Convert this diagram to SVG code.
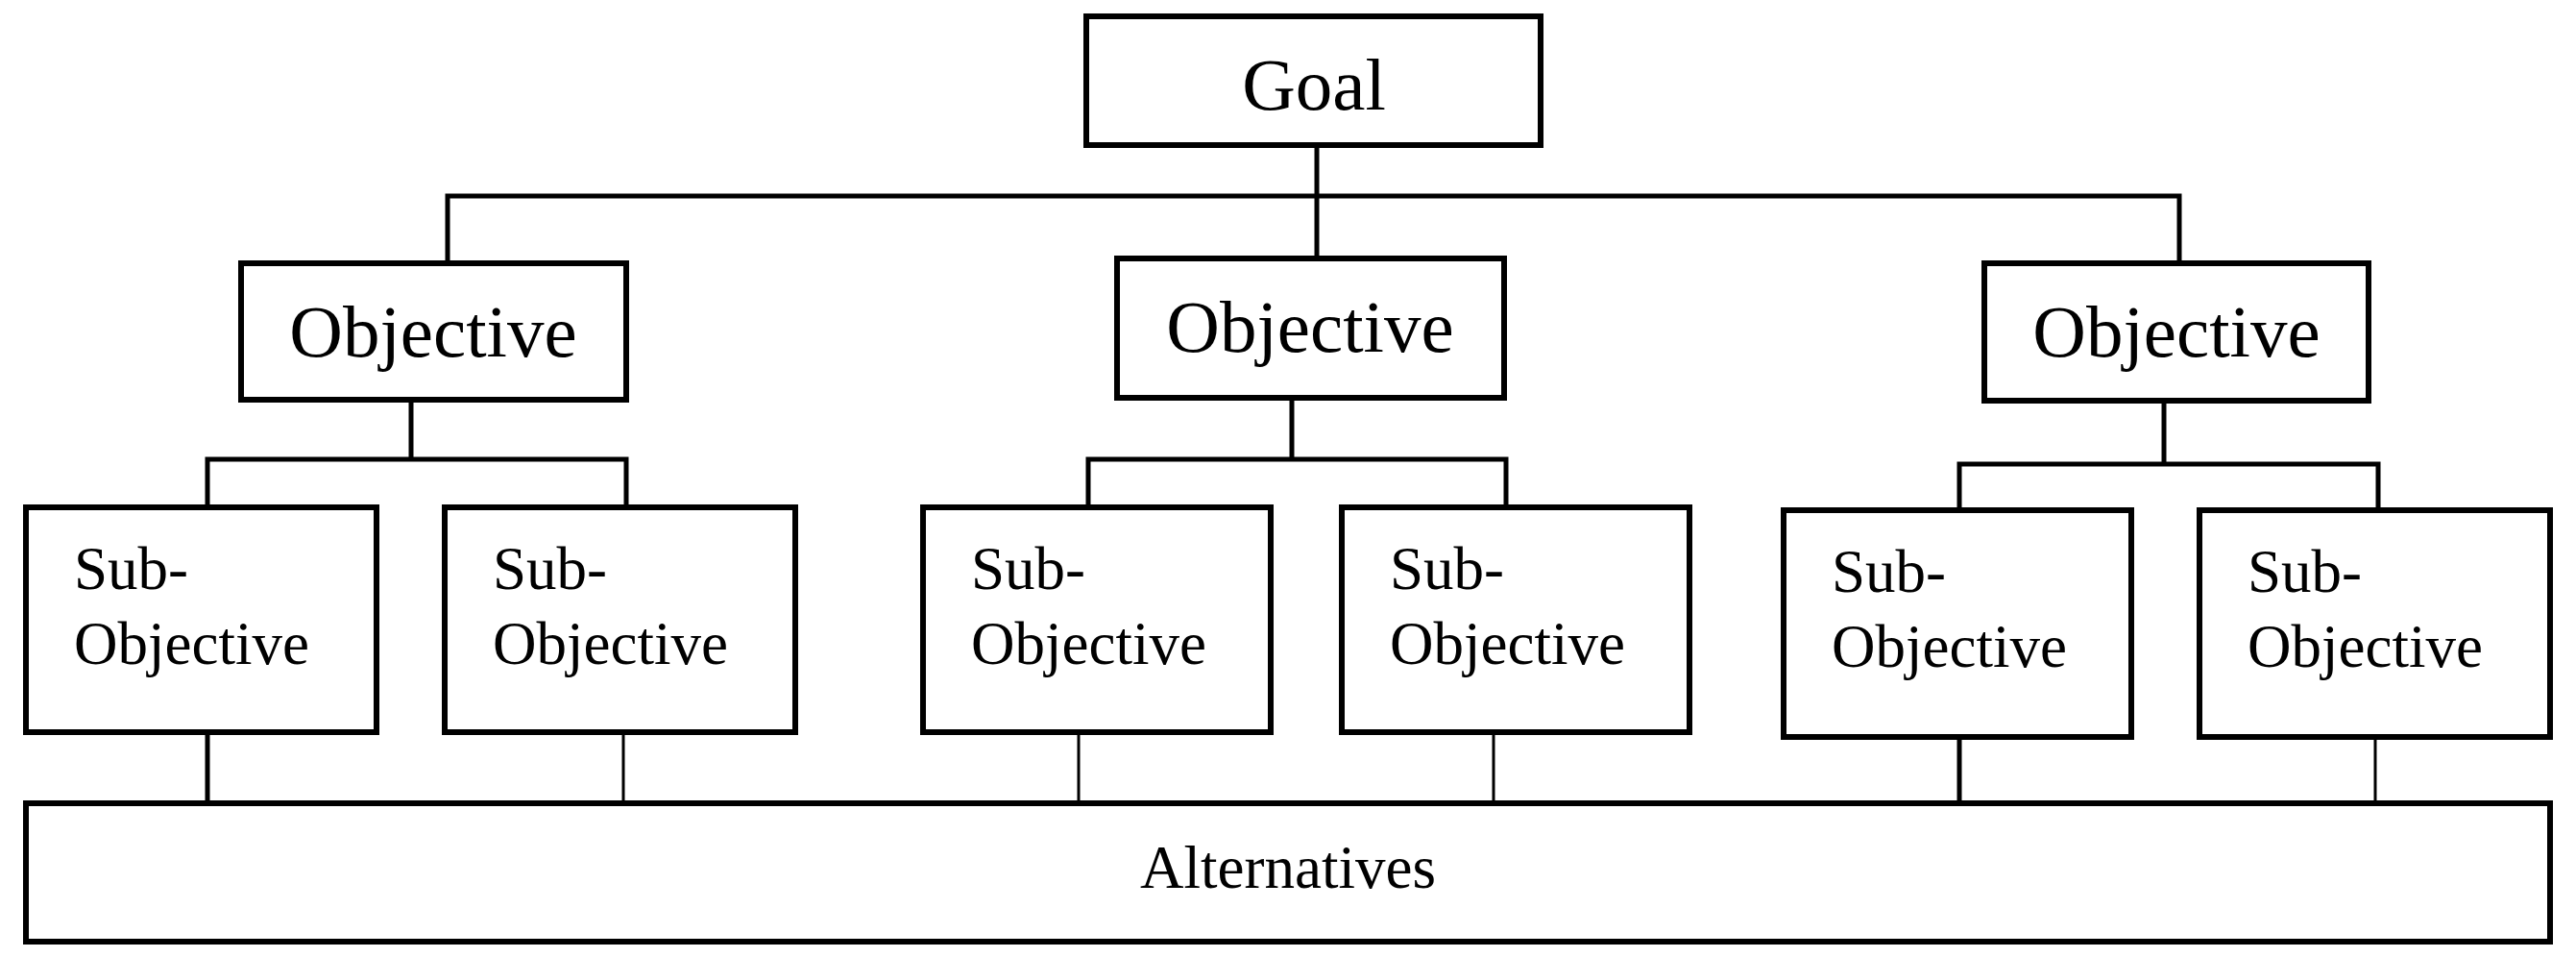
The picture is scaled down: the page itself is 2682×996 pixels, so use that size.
<svg xmlns="http://www.w3.org/2000/svg" width="2682" height="996" viewBox="0 0 2682 996">
<style>
.b{fill:#fff;stroke:#000;stroke-width:6}
.c{fill:none;stroke:#000;stroke-width:5}
.t{stroke-width:3}
text{font-family:"Liberation Serif","Times New Roman",serif;fill:#000}
.big{font-size:77px;text-anchor:middle}
.sub{font-size:63px}
</style>
<rect width="2682" height="996" fill="#fff"/>
<g id="connectors">
<path class="c" d="M1371 151V269M466 274V204H2269V274"/>
<path class="c" d="M428 416V478M216 528V478H652V528"/>
<path class="c" d="M1345 414V478M1133 528V478H1568V528"/>
<path class="c" d="M2253 417V483M2040 531V483H2476V531"/>
<path class="c" d="M216 762V836M2040 767V836"/>
<path class="c t" d="M649 762V836M1123 762V836M1555 762V836M2473 767V836"/>
</g>
<g id="goal"><rect class="b" x="1131" y="17" width="473" height="134"/><text class="big" x="1368" y="114">Goal</text></g>
<g id="obj1"><rect class="b" x="251" y="274" width="401" height="142"/><text class="big" x="451" y="371">Objective</text></g>
<g id="obj2"><rect class="b" x="1163" y="269" width="403" height="145"/><text class="big" x="1364" y="366">Objective</text></g>
<g id="obj3"><rect class="b" x="2066" y="274" width="400" height="143"/><text class="big" x="2266" y="371">Objective</text></g>
<g id="sub1"><rect class="b" x="27" y="528" width="365" height="234"/><text class="sub" x="77" y="613">Sub-</text><text class="sub" x="77" y="691">Objective</text></g>
<g id="sub2"><rect class="b" x="463" y="528" width="365" height="234"/><text class="sub" x="513" y="613">Sub-</text><text class="sub" x="513" y="691">Objective</text></g>
<g id="sub3"><rect class="b" x="961" y="528" width="362" height="234"/><text class="sub" x="1011" y="613">Sub-</text><text class="sub" x="1011" y="691">Objective</text></g>
<g id="sub4"><rect class="b" x="1397" y="528" width="362" height="234"/><text class="sub" x="1447" y="613">Sub-</text><text class="sub" x="1447" y="691">Objective</text></g>
<g id="sub5"><rect class="b" x="1857" y="531" width="362" height="236"/><text class="sub" x="1907" y="616">Sub-</text><text class="sub" x="1907" y="694">Objective</text></g>
<g id="sub6"><rect class="b" x="2290" y="531" width="365" height="236"/><text class="sub" x="2340" y="616">Sub-</text><text class="sub" x="2340" y="694">Objective</text></g>
<g id="alternatives"><rect class="b" x="27" y="836" width="2628" height="144"/><text class="sub" x="1341" y="924" text-anchor="middle">Alternatives</text></g>
</svg>
